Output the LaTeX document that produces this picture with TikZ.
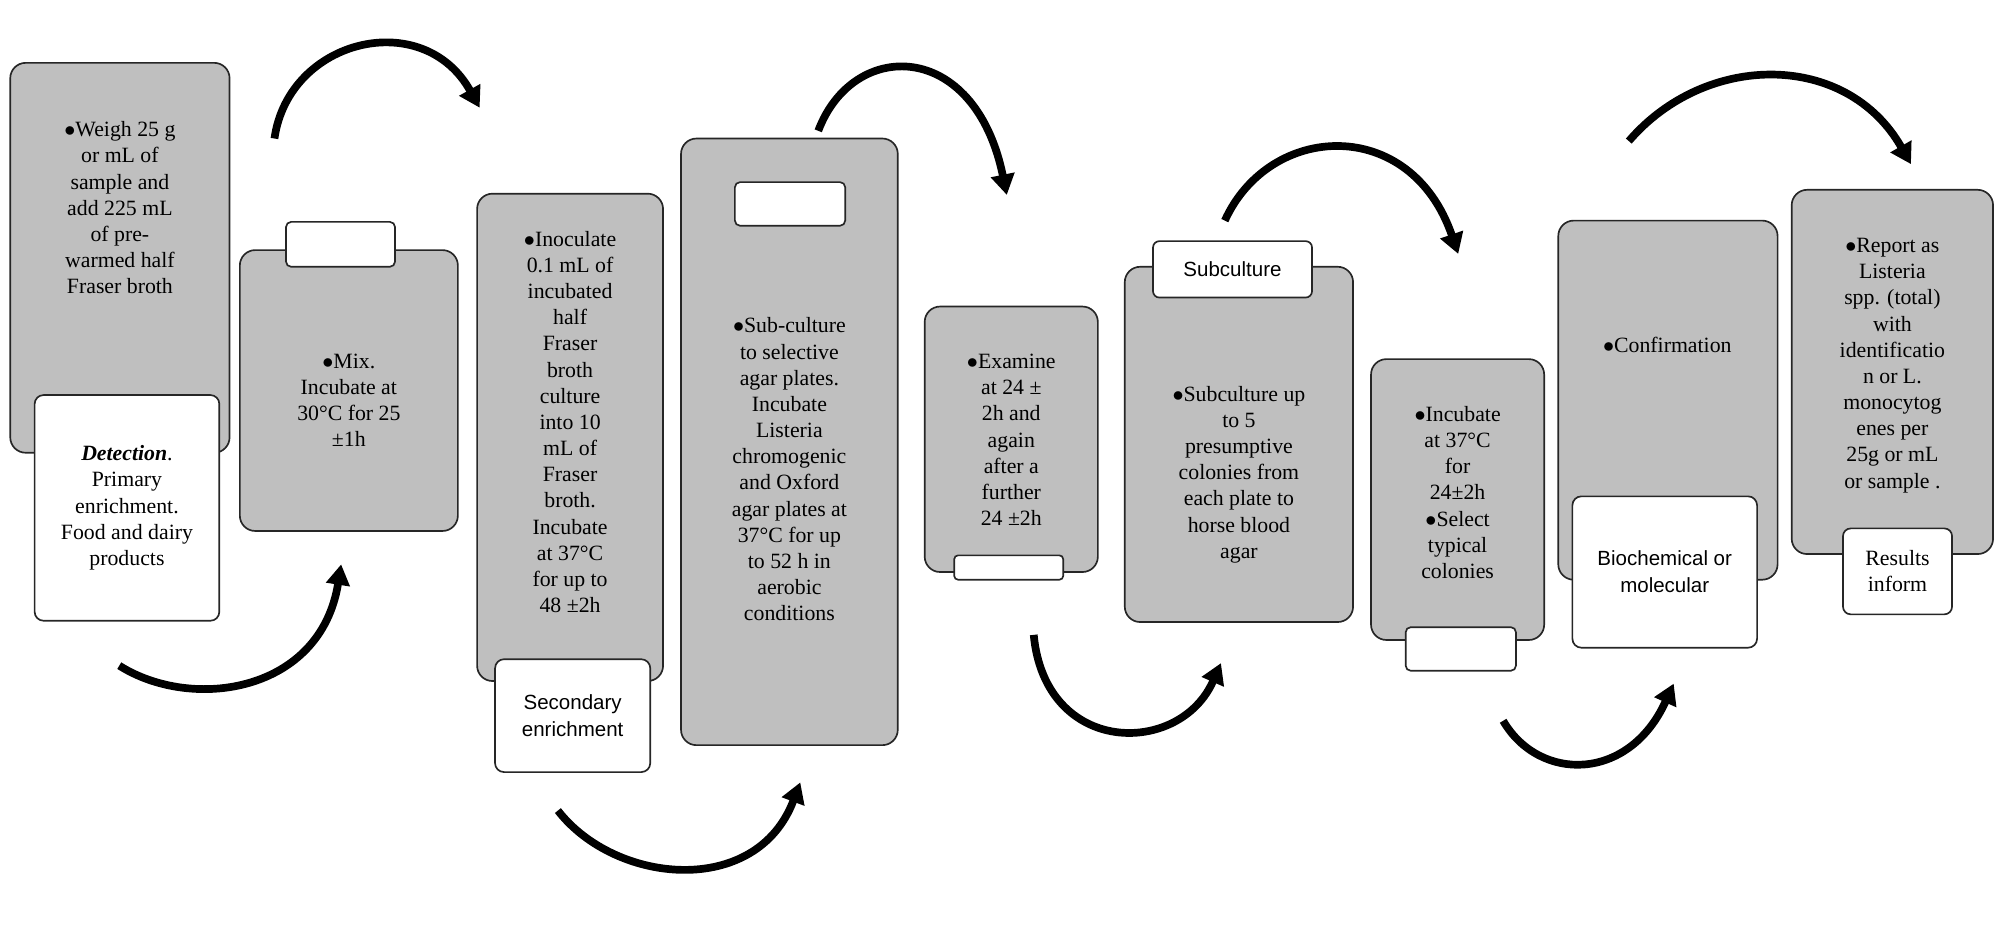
\documentclass[tikz,border=0pt]{standalone}
\usepackage{fontspec}
\setmainfont{Liberation Serif}
\setsansfont{Liberation Sans}
\usetikzlibrary{arrows.meta}
\begin{document}
\begin{tikzpicture}[x=1pt,y=-1pt,
 gbox/.style={draw=black!85,line width=1.3pt,fill=gray!50,rounded corners=12pt},
 wbox/.style={draw=black!85,line width=1.3pt,fill=white,rounded corners=7pt},
 txt/.style={align=center,font=\fontsize{17}{20.4}\selectfont,inner sep=0pt},
 stxt/.style={align=center,font=\sffamily\fontsize{16}{21}\selectfont,inner sep=0pt},
 arr/.style={line width=6pt,-{Triangle[length=16pt,width=18pt]}}]
\useasboundingbox (0,0) rectangle (1568,740);
% boxes
\draw[gbox] (8,49) rectangle (179,353);
\node[txt] (t1) at (93.5,162) {$\bullet$Weigh 25 g\\ or mL of\\ sample and\\ add 225 mL\\ of pre-\\ warmed half\\ Fraser broth};
\draw[wbox] (27,308) rectangle (171,484);
\node[txt] (w1) at (99,396) {\textbf{\textit{Detection}}.\\ Primary\\ enrichment.\\ Food and dairy\\ products};

\draw[gbox] (187,195) rectangle (357,414);
\node[txt] (t2) at (272,312) {$\bullet$Mix.\\ Incubate at\\ 30°C for 25\\ ±1h};
\draw[wbox,rounded corners=4pt] (223,173) rectangle (308,208);

\draw[gbox] (372,151) rectangle (517,531);
\node[txt] (t3) at (444.5,329) {$\bullet$Inoculate\\ 0.1 mL of\\ incubated\\ half\\ Fraser\\ broth\\ culture\\ into 10\\ mL of\\ Fraser\\ broth.\\ Incubate\\ at 37°C\\ for up to\\ 48 ±2h};
\draw[wbox] (386,514) rectangle (507,602);
\node[stxt] (w3) at (446.5,558) {Secondary\\ enrichment};

\draw[gbox] (531,108) rectangle (700,581);
\node[txt] (t4) at (615.5,366) {$\bullet$Sub-culture\\ to selective\\ agar plates.\\ Incubate\\ Listeria\\ chromogenic\\ and Oxford\\ agar plates at\\ 37°C for up\\ to 52 h in\\ aerobic\\ conditions};
\draw[wbox,rounded corners=4pt] (573,142) rectangle (659,176);

\draw[gbox] (721,239) rectangle (856,446);
\node[txt] (t5) at (788.5,343) {$\bullet$Examine\\ at 24 ±\\ 2h and\\ again\\ after a\\ further\\ 24 ±2h};
\draw[wbox,rounded corners=3pt] (744,433) rectangle (829,452);

\draw[gbox] (877,208) rectangle (1055,485);
\node[txt] (t6) at (966,370) {$\bullet$Subculture up\\ to 5\\ presumptive\\ colonies from\\ each plate to\\ horse blood\\ agar};
\draw[wbox,rounded corners=5pt] (899,188) rectangle (1023,232);
\node[stxt] (w6) at (961,210) {Subculture};

\draw[gbox] (1069,280) rectangle (1204,499);
\node[txt] (t7) at (1136.5,384) {$\bullet$Incubate\\ at 37°C\\ for\\ 24±2h\\ $\bullet$Select\\ typical\\ colonies};
\draw[wbox,rounded corners=4pt] (1096,489) rectangle (1182,523);

\draw[gbox] (1215,172) rectangle (1386,452);
\node[txt] (t8) at (1300,269) {$\bullet$Confirmation};
\draw[wbox] (1226,387) rectangle (1370,505);
\node[stxt] (w8) at (1298,446) {Biochemical or\\ molecular};

\draw[gbox] (1397,148) rectangle (1554,432);
\node[txt] (t9) at (1475.5,285) {$\bullet$Report as\\ Listeria\\ spp. (total)\\ with\\ identificatio\\ n or L.\\ monocytog\\ enes per\\ 25g or mL\\ or sample .};
\draw[wbox,rounded corners=6pt] (1437,412) rectangle (1522,479);
\node[txt] (w9) at (1479.5,445) {Results\\ inform};

% arrows
\coordinate (a1s) at (214,108); \coordinate (a1e) at (374,84);
\draw[arr] (a1s) .. controls (225,30) and (330,5) .. (a1e);
\coordinate (a2s) at (93,519); \coordinate (a2e) at (266,440);
\draw[arr] (a2s) .. controls (150,555) and (250,540) .. (a2e);
\coordinate (a3s) at (435,632); \coordinate (a3e) at (624,610);
\draw[arr] (a3s) .. controls (480,690) and (590,700) .. (a3e);
\coordinate (a4s) at (638,102); \coordinate (a4e) at (785,152);
\draw[arr] (a4s) .. controls (665,30) and (760,30) .. (a4e);
\coordinate (a5s) at (806,495); \coordinate (a5e) at (952,517);
\draw[arr] (a5s) .. controls (815,590) and (920,590) .. (a5e);
\coordinate (a6s) at (955,172); \coordinate (a6e) at (1137,198);
\draw[arr] (a6s) .. controls (990,95) and (1100,90) .. (a6e);
\coordinate (a7s) at (1172,562); \coordinate (a7e) at (1305,533);
\draw[arr] (a7s) .. controls (1200,610) and (1270,610) .. (a7e);
\coordinate (a8s) at (1270,110); \coordinate (a8e) at (1490,128);
\draw[arr] (a8s) .. controls (1330,40) and (1440,40) .. (a8e);
\end{tikzpicture}
\end{document}
